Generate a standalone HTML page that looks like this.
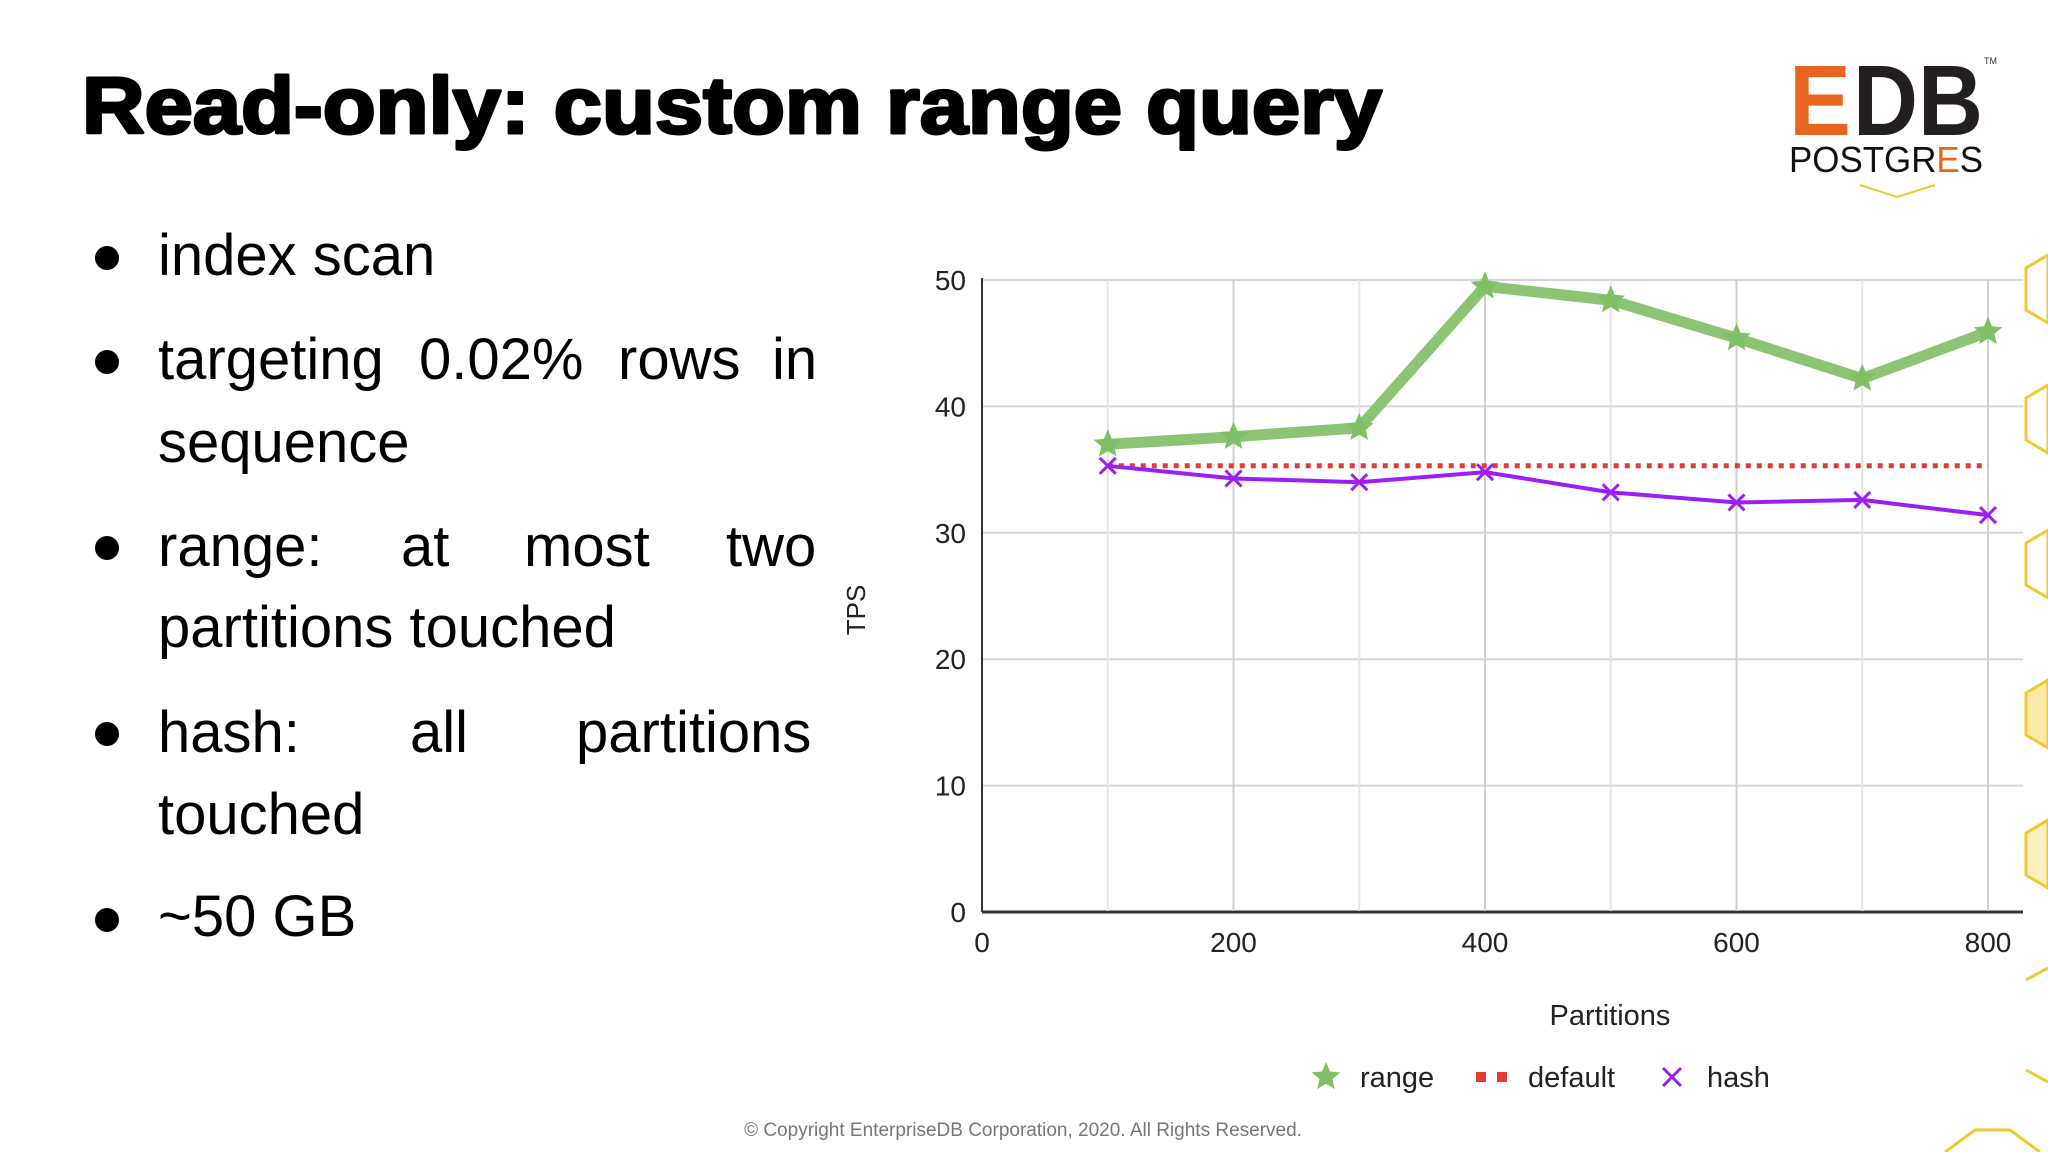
<!DOCTYPE html>
<html><head><meta charset="utf-8"><style>
html,body{margin:0;padding:0;background:#fff;}
svg{display:block;font-family:"Liberation Sans",Arial,sans-serif;}
</style></head><body>
<svg id="root" width="2048" height="1152" viewBox="0 0 2048 1152">
<rect width="2048" height="1152" fill="#fff"/>
<g fill="none" stroke="#f0c930" stroke-width="3">
<polygon points="2048,255 2026,268 2026,310 2048,323"/>
<polygon points="2048,385 2026,398 2026,440 2048,453"/>
<polygon points="2048,530 2026,543 2026,585 2048,598"/>
<polygon points="2048,680 2026,693 2026,735 2048,748" fill="#fbe9a8"/>
<polygon points="2048,820 2026,833 2026,875 2048,888" fill="#fcefc0"/>
<polyline points="2026,980 2048,968"/>
<polyline points="2026,1070 2048,1082"/>
<polyline points="1945,1152 1975,1130 2010,1130 2040,1152"/>
</g>
<text x="82" y="133" font-size="80" font-weight="900" stroke="#000" stroke-width="3" stroke-linejoin="round" textLength="1300" lengthAdjust="spacingAndGlyphs">Read-only: custom range query</text>
<g>
<text x="1789" y="135" font-size="100" font-weight="900" fill="#e8641f" textLength="62" lengthAdjust="spacingAndGlyphs">E</text>
<text x="1853" y="135" font-size="100" font-weight="900" fill="#231f20" textLength="130" lengthAdjust="spacingAndGlyphs">DB</text>
<text x="1984" y="64" font-size="9" fill="#333">TM</text>
<text x="1789" y="172" font-size="36" fill="#111" textLength="194" lengthAdjust="spacingAndGlyphs">POSTGR<tspan fill="#e8641f">E</tspan>S</text>
<polyline points="1860,185 1897,197 1935,185" fill="none" stroke="#f0c930" stroke-width="2"/>
</g>
<g font-size="58" fill="#000">
<circle cx="107" cy="258" r="12"/><text x="158" y="275">index scan</text>
<circle cx="107" cy="362" r="12"/><text x="158" y="379">targeting</text><text x="419" y="379">0.02%</text><text x="618" y="379">rows</text><text x="772" y="379">in</text>
<text x="158" y="462">sequence</text>
<circle cx="107" cy="548" r="12"/><text x="158" y="566">range:</text><text x="401" y="566">at</text><text x="524" y="566">most</text><text x="726" y="566">two</text>
<text x="158" y="647">partitions touched</text>
<circle cx="107" cy="734" r="12"/><text x="158" y="752">hash:</text><text x="410" y="752">all</text><text x="576" y="752">partitions</text>
<text x="158" y="834">touched</text>
<circle cx="107" cy="920" r="12"/><text x="158" y="936">~50 GB</text>
</g>
<g id="chart"></g>
<text x="1023" y="1136" font-size="19" fill="#777" text-anchor="middle">© Copyright EnterpriseDB Corporation, 2020.  All Rights Reserved.</text>
</svg>
<script>
const partitions=[100,200,300,400,500,600,700,800];
const rangeTps=[37.0,37.6,38.3,49.5,48.4,45.4,42.2,45.9];
const hashTps=[35.3,34.3,34.0,34.8,33.2,32.4,32.6,31.4];
const defaultTps=[35.3,35.3,35.3,35.3,35.3,35.3,35.3,35.3];
const yTicks=[0,10,20,30,40,50];
const xTicks=[0,200,400,600,800];
const xGrid=[100,200,300,400,500,600,700,800];
const NS='http://www.w3.org/2000/svg';
const g=document.getElementById('chart');
const X=v=>982+(v/800)*(1988-982);
const Y=v=>912-(v/50)*(912-280);
function mk(t,a,p){const e=document.createElementNS(NS,t);for(const k in a)e.setAttribute(k,a[k]);(p||g).appendChild(e);return e;}
yTicks.forEach(t=>{
 const l=mk('line',{x1:982,x2:2023,y1:Y(t),y2:Y(t),stroke:t===0?'#333':'#d6d6d6','stroke-width':t===0?3:2});
 
 
 const tx=mk('text',{x:966,y:Y(t)+10,'font-size':28,'text-anchor':'end',fill:'#222'});tx.textContent=t;
 
 
});
xGrid.forEach(t=>{
 const l=mk('line',{x1:X(t),x2:X(t),y1:280,y2:911,stroke:t%200===0?'#cfcfcf':'#e6e6e6','stroke-width':2});
 
 
});
const ya=mk('line',{x1:982,x2:982,y1:278,y2:912,stroke:'#333','stroke-width':2});


xTicks.forEach(t=>{
 const tx=mk('text',{x:X(t),y:952,'font-size':28,'text-anchor':'middle',fill:'#222'});tx.textContent=t;
 
 
});
function pts(arr){return arr.map((v,i)=>X(partitions[i])+','+Y(v)).join(' ');}
const dl=mk('polyline',{points:pts(defaultTps),fill:'none',stroke:'#e53935','stroke-width':5,'stroke-dasharray':'5 6'});


const rl=mk('polyline',{points:pts(rangeTps),fill:'none',stroke:'#8cc474','stroke-width':11,'stroke-linejoin':'round'});


function star(cx,cy,r){let p=[];for(let i=0;i<10;i++){const a=-Math.PI/2+i*Math.PI/5,rr=i%2?r*0.45:r;p.push((cx+rr*Math.cos(a)).toFixed(1)+','+(cy+rr*Math.sin(a)).toFixed(1));}return p.join(' ');}
rangeTps.forEach((v,i)=>{
 const s=mk('polygon',{points:star(X(partitions[i]),Y(v),15),fill:'#7fbf66'});
 
 
});
const hl=mk('polyline',{points:pts(hashTps),fill:'none',stroke:'#9b1ff5','stroke-width':4});


function cross(cx,cy,r,name){const p=mk('path',{d:`M${cx-r},${cy-r}L${cx+r},${cy+r}M${cx+r},${cy-r}L${cx-r},${cy+r}`,stroke:'#9b1ff5','stroke-width':3});
 
 }
hashTps.forEach((v,i)=>cross(X(partitions[i]),Y(v),8,'hash-point'));
const xt=mk('text',{x:1610,y:1025,'font-size':29,'text-anchor':'middle',fill:'#222'});xt.textContent='Partitions';


const yt=mk('text',{x:0,y:0,'font-size':26,'text-anchor':'middle',fill:'#222',transform:'translate(865,610) rotate(-90)'});yt.textContent='TPS';


const lg=mk('g',{});


const ls=mk('polygon',{points:star(1326,1077,15),fill:'#7fbf66'},lg);


const t1=mk('text',{x:1360,y:1087,'font-size':29,fill:'#222'},lg);t1.textContent='range';


const q1=mk('rect',{x:1476,y:1072,width:10,height:10,fill:'#e53935'},lg);


mk('rect',{x:1497,y:1072,width:10,height:10,fill:'#e53935'},lg);
const t2=mk('text',{x:1528,y:1087,'font-size':29,fill:'#222'},lg);t2.textContent='default';


const lx=mk('path',{d:'M1663,1068L1681,1086M1681,1068L1663,1086',stroke:'#9b1ff5','stroke-width':3},lg);


const t3=mk('text',{x:1707,y:1087,'font-size':29,fill:'#222'},lg);t3.textContent='hash';


</script>
</body></html>
